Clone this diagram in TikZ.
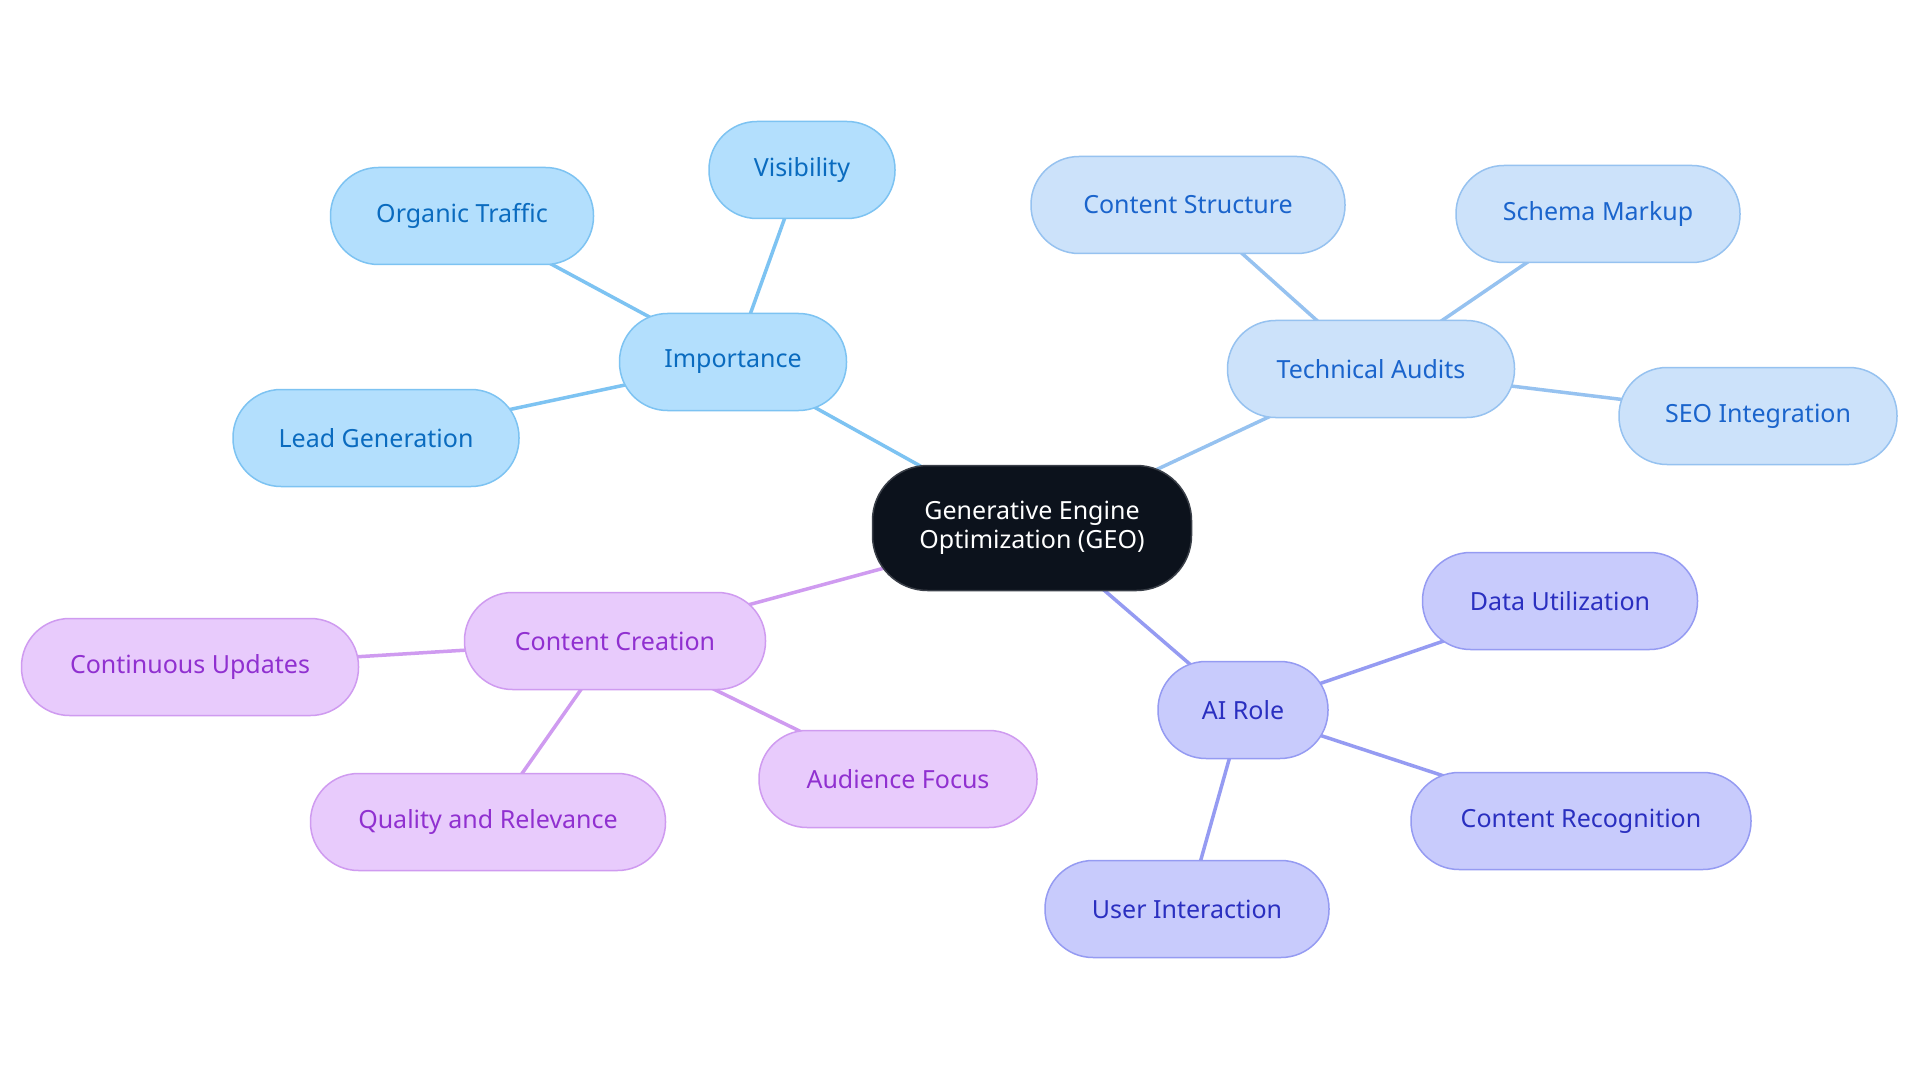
\documentclass[tikz,border=0pt]{standalone}
\usepackage{fontspec}
\setmainfont{Noto Sans}
\usetikzlibrary{backgrounds}
\definecolor{cfill}{HTML}{0C121C}
\definecolor{cline}{HTML}{3A3F48}
\definecolor{bfill}{HTML}{B3DFFD}
\definecolor{bline}{HTML}{7DC3F2}
\definecolor{btext}{HTML}{0A6BBF}
\definecolor{tfill}{HTML}{CCE2FA}
\definecolor{tline}{HTML}{96C2F0}
\definecolor{ttext}{HTML}{1A64CC}
\definecolor{afill}{HTML}{C8CBFC}
\definecolor{aline}{HTML}{959BF2}
\definecolor{atext}{HTML}{2A2FC0}
\definecolor{pfill}{HTML}{E8CBFC}
\definecolor{pline}{HTML}{CF9BF0}
\definecolor{ptext}{HTML}{9030D0}
\tikzset{
  pill/.style={rectangle, rounded corners=48pt, minimum height=97pt, inner sep=0pt, line width=1.5pt, font=\fontsize{25}{29}\selectfont},
  grpb/.style={pill, fill=bfill, draw=bline, text=btext},
  grpt/.style={pill, fill=tfill, draw=tline, text=ttext},
  grpa/.style={pill, fill=afill, draw=aline, text=atext},
  grpp/.style={pill, fill=pfill, draw=pline, text=ptext},
  eb/.style={draw=bline, line width=3.5pt},
  et/.style={draw=tline, line width=3.5pt},
  ea/.style={draw=aline, line width=3.5pt},
  ep/.style={draw=pline, line width=3.5pt},
}
\begin{document}
\begin{tikzpicture}[x=1pt,y=-1pt]
\useasboundingbox (0,0) rectangle (1920,1083);
\node[pill, fill=cfill, draw=cline, text=white, minimum width=319pt, minimum height=125pt, rounded corners=55pt, align=center] (geo) at (1032,528) {Generative Engine\\Optimization (GEO)};
% Importance
\node[grpb, minimum width=227pt] (imp) at (733,362) {Importance};
\node[grpb, minimum width=186pt] (vis) at (802,170) {Visibility};
\node[grpb, minimum width=263pt] (org) at (462,216) {Organic Traffic};
\node[grpb, minimum width=286pt] (lead) at (376,438) {Lead Generation};
% Technical
\node[grpt, minimum width=287pt] (tech) at (1371,369) {Technical Audits};
\node[grpt, minimum width=314pt] (cs) at (1188,205) {Content Structure};
\node[grpt, minimum width=284pt] (sm) at (1598,214) {Schema Markup};
\node[grpt, minimum width=278pt] (seo) at (1758,416) {SEO Integration};
% AI
\node[grpa, minimum width=170pt] (ai) at (1243,710) {AI Role};
\node[grpa, minimum width=275pt] (du) at (1560,601) {Data Utilization};
\node[grpa, minimum width=340pt] (cr) at (1581,821) {Content Recognition};
\node[grpa, minimum width=284pt] (ui) at (1187,909) {User Interaction};
% Content creation
\node[grpp, minimum width=301pt] (cc) at (615,641) {Content Creation};
\node[grpp, minimum width=337pt] (cu) at (190,667) {Continuous Updates};
\node[grpp, minimum width=355pt] (qr) at (488,822) {Quality and Relevance};
\node[grpp, minimum width=278pt] (af) at (898,779) {Audience Focus};
\begin{pgfonlayer}{background}
\fill[white] (0,0) rectangle (1920,1083);
\draw[eb] (geo.center) -- (imp.center);
\draw[eb] (imp.center) -- (vis.center);
\draw[eb] (imp.center) -- (org.center);
\draw[eb] (imp.center) -- (lead.center);
\draw[et] (geo.center) -- (tech.center);
\draw[et] (tech.center) -- (cs.center);
\draw[et] (tech.center) -- (sm.center);
\draw[et] (tech.center) -- (seo.center);
\draw[ea] (geo.center) -- (ai.center);
\draw[ea] (ai.center) -- (du.center);
\draw[ea] (ai.center) -- (cr.center);
\draw[ea] (ai.center) -- (ui.center);
\draw[ep] (geo.center) -- (cc.center);
\draw[ep] (cc.center) -- (cu.center);
\draw[ep] (cc.center) -- (qr.center);
\draw[ep] (cc.center) -- (af.center);
\end{pgfonlayer}
\end{tikzpicture}
\end{document}
